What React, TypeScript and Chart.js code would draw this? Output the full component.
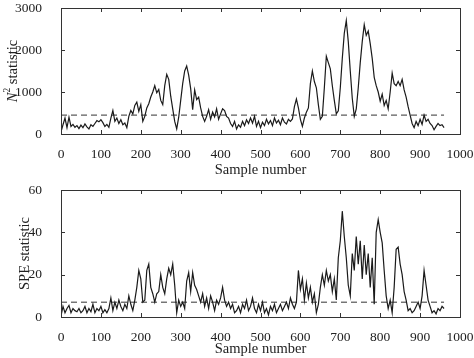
import React, { useEffect, useRef } from "react";
import { Chart, registerables } from "chart.js";

Chart.register(...registerables);

const SAMPLE_STEP = 5;

const N2_VALUES = [
  50, 220, 380, 150, 400, 180, 230, 160, 200, 130,
  210, 150, 240, 170, 120, 220, 180, 250, 320, 290,
  340, 270, 180, 230, 160, 380, 560, 300, 380, 250,
  340, 220, 260, 150, 420, 560, 480, 680, 760, 540,
  700, 300, 420, 620, 720, 880, 1000, 1150, 980, 1060,
  800, 700, 1150, 1420, 1300, 900, 600, 300, 120, 400,
  800, 1200, 1500, 1620, 1400, 1080, 580, 1050, 820, 880,
  620, 420, 300, 420, 580, 350, 520, 410, 600, 350,
  480, 600, 560, 420, 380, 250, 180, 300, 120, 220,
  160, 300, 200, 340, 250, 380, 260, 420, 180, 300,
  150, 280, 200, 350, 240, 320, 200, 380, 260, 330,
  220, 380, 280, 240, 350, 300, 360, 650, 830, 620,
  350, 180, 380, 520, 620, 1200, 1500, 1250, 1100, 700,
  350, 420, 1100, 1850, 1700, 1550, 1150, 800, 480, 550,
  1100, 1800, 2400, 2700, 2200, 1500, 850, 420, 600, 1100,
  1700, 2200, 2600, 2350, 2450, 2150, 1800, 1350, 1150, 1000,
  780, 950, 680, 800, 600, 1000, 1450, 1200, 1150, 1250,
  1150, 1300, 1050, 880, 650, 450, 250, 150, 300, 200,
  350, 230, 450, 300, 350, 250, 200, 100, 180, 250,
  200, 220, 150,
];

const SPE_VALUES = [
  0.5, 5, 2, 4, 5.5, 2, 4, 3, 2.5, 4,
  2, 3, 5, 2, 4, 2.5, 6, 2, 4, 3,
  5, 2, 3.5, 2, 4, 9, 3, 7, 4, 8,
  5, 3, 6, 4, 10, 6, 3, 8, 14, 22,
  18, 7, 8, 22, 25, 14, 11, 7, 11, 12,
  20, 14, 11, 18, 23, 20, 25, 15, 2, 8,
  5, 7, 4, 17, 21, 12, 21, 15, 13, 10,
  7, 11, 5, 9, 4, 10, 7, 3, 8, 6,
  9, 14, 8, 5, 7, 4, 6, 2, 3, 5,
  2, 6, 4, 8, 3, 5, 9, 4, 2, 6,
  3, 7, 2, 4, 1, 5, 3, 6, 2, 4,
  6, 3, 5, 7, 4, 9, 6, 4, 7, 22,
  13, 18, 8, 16, 9, 14, 7, 11, 2, 6,
  14, 20, 15, 22, 17, 20, 12, 18, 8, 28,
  36, 50, 38, 28, 15, 10, 30, 22, 38, 25,
  36, 18, 34, 20, 30, 14, 28, 6, 40, 46,
  40, 35, 22, 10, 4, 8, 2, 14, 32, 33,
  25, 20, 12, 8, 3, 4, 2, 3, 5, 7,
  4, 10, 22, 15, 8, 5, 2, 3, 1.5, 4,
  3, 5, 4,
];

const N2_LIMIT = 450;
const SPE_LIMIT = 7;
const LIMIT_END = 960;

const X_MIN = 0;
const X_MAX = 1000;
const X_STEP = 100;
const N2_MAX = 3000;
const N2_STEP = 1000;
const SPE_MAX = 60;
const SPE_STEP = 20;

const X_TITLE = "Sample number";
const N2_TITLE_PARTS = [
  { text: "N", italic: true, sup: false },
  { text: "2", italic: false, sup: true },
  { text: " statistic", italic: false, sup: false },
];
const SPE_TITLE_PARTS = [{ text: "SPE statistic", italic: false, sup: false }];

const FONT_FAMILY = '"Liberation Serif", "DejaVu Serif", serif';
const TEXT_COLOR = "#222";

const framePlugin = {
  id: "frameTicks",
  afterDraw(chart: any) {
    const { ctx, chartArea: a, scales } = chart;
    const L = 4;
    ctx.save();
    ctx.strokeStyle = "#333";
    ctx.lineWidth = 1;
    ctx.beginPath();
    scales.x.ticks.forEach((t: any) => {
      const px = Math.round(scales.x.getPixelForValue(t.value)) + 0.5;
      ctx.moveTo(px, a.bottom);
      ctx.lineTo(px, a.bottom - L);
      ctx.moveTo(px, a.top);
      ctx.lineTo(px, a.top + L);
    });
    scales.y.ticks.forEach((t: any) => {
      const py = Math.round(scales.y.getPixelForValue(t.value)) + 0.5;
      ctx.moveTo(a.left, py);
      ctx.lineTo(a.left + L, py);
      ctx.moveTo(a.right, py);
      ctx.lineTo(a.right - L, py);
    });
    ctx.stroke();
    ctx.strokeRect(
      Math.round(a.left) + 0.5,
      Math.round(a.top) + 0.5,
      Math.round(a.right - a.left),
      Math.round(a.bottom - a.top)
    );
    ctx.restore();
  },
};

const yTitlePlugin = {
  id: "yTitleRich",
  afterDraw(chart: any, _args: any, opts: any) {
    const parts = opts.parts as { text: string; italic: boolean; sup: boolean }[];
    if (!parts) return;
    const { ctx, chartArea: a } = chart;
    const size = opts.size as number;
    const fontFor = (p: any) =>
      `${p.italic ? "italic " : ""}${p.sup ? size * 0.65 : size}px ${FONT_FAMILY}`;
    ctx.save();
    let total = 0;
    parts.forEach((p) => {
      ctx.font = fontFor(p);
      total += ctx.measureText(p.text).width;
    });
    const cy = (a.top + a.bottom) / 2;
    ctx.translate(opts.x, cy);
    ctx.rotate(-Math.PI / 2);
    ctx.fillStyle = TEXT_COLOR;
    ctx.textBaseline = "middle";
    ctx.textAlign = "left";
    let x = -total / 2;
    parts.forEach((p) => {
      ctx.font = fontFor(p);
      ctx.fillText(p.text, x, p.sup ? -size * 0.35 : 0);
      x += ctx.measureText(p.text).width;
    });
    ctx.restore();
  },
};

function buildConfig(
  values: number[],
  limit: number,
  yMax: number,
  yStep: number,
  titleParts: any[],
  titleX: number,
  padTop: number,
  xHeight: number
) {
  const series = values.map((v, i) => ({ x: i * SAMPLE_STEP, y: v }));
  const limitLine = [
    { x: 0, y: limit },
    { x: LIMIT_END, y: limit },
  ];
  return {
    type: "line" as const,
    data: {
      datasets: [
        {
          data: series,
          borderColor: "#1a1a1a",
          borderWidth: 1.2,
          pointRadius: 0,
          tension: 0,
          fill: false,
        },
        {
          data: limitLine,
          borderColor: "#333",
          borderWidth: 1,
          borderDash: [6, 4],
          pointRadius: 0,
          fill: false,
        },
      ],
    },
    options: {
      animation: false as const,
      responsive: false,
      maintainAspectRatio: false,
      layout: { padding: { top: padTop, right: 14, left: 0, bottom: 0 } },
      plugins: {
        legend: { display: false },
        tooltip: { enabled: false },
        yTitleRich: { parts: titleParts, x: titleX, size: 14.5 },
      },
      scales: {
        x: {
          type: "linear" as const,
          min: X_MIN,
          max: X_MAX,
          grid: { display: false },
          border: { display: false },
          ticks: {
            stepSize: X_STEP,
            maxRotation: 0,
            autoSkip: false,
            padding: 4,
            color: TEXT_COLOR,
            font: { family: FONT_FAMILY, size: 13.5 },
            callback: (v: any) => String(v),
          },
          title: {
            display: true,
            text: X_TITLE,
            color: TEXT_COLOR,
            font: { family: FONT_FAMILY, size: 14.5 },
            padding: { top: 0, bottom: 0 },
          },
          afterFit: (s: any) => {
            s.height = xHeight;
            s.paddingLeft = 0;
            s.paddingRight = 0;
          },
        },
        y: {
          min: 0,
          max: yMax,
          grid: { display: false },
          border: { display: false },
          ticks: {
            stepSize: yStep,
            padding: 11,
            color: TEXT_COLOR,
            font: { family: FONT_FAMILY, size: 13.5 },
            callback: (v: any) => String(v),
          },
          afterFit: (s: any) => {
            s.width = 61;
            s.paddingTop = 0;
            s.paddingBottom = 0;
          },
        },
      },
    },
    plugins: [framePlugin, yTitlePlugin],
  };
}

function Panel(props: { config: any }) {
  const ref = useRef<HTMLCanvasElement | null>(null);
  useEffect(() => {
    if (!ref.current) return;
    const chart = new Chart(ref.current, props.config);
    return () => chart.destroy();
  }, []);
  return (
    <canvas
      ref={ref}
      width={474}
      height={179}
      style={{ display: "block", width: 474, height: 179 }}
    />
  );
}

export default function App() {
  const topConfig = buildConfig(N2_VALUES, N2_LIMIT, N2_MAX, N2_STEP, N2_TITLE_PARTS, 13, 8, 45);
  const bottomConfig = buildConfig(SPE_VALUES, SPE_LIMIT, SPE_MAX, SPE_STEP, SPE_TITLE_PARTS, 25, 11, 41);
  return (
    <div
      style={{
        position: "absolute",
        left: 0,
        top: 0,
        width: 474,
        height: 358,
        background: "#fff",
      }}
    >
      <Panel config={topConfig} />
      <Panel config={bottomConfig} />
    </div>
  );
}
